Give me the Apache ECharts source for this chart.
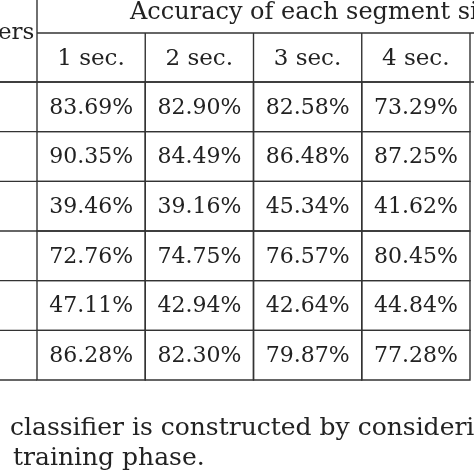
<!DOCTYPE html>
<html lang="en">
<head>
<meta charset="UTF-8">
<script src="https://cdn.jsdelivr.net/npm/echarts@6/dist/echarts.min.js"></script>
<style>
  html, body { margin: 0; padding: 0; background: #fff; }
  #chart { width: 474px; height: 474px; }
</style>
</head>
<body>
<div id="chart"></div>
<script>
// column and row labels
var columns = ['1 sec.', '2 sec.', '3 sec.', '4 sec.'];
var rows = ['r1', 'r2', 'r3', 'r4', 'r5', 'r6'];
// accuracy per row, per segment size
var row1 = ['83.69%', '82.90%', '82.58%', '73.29%'];
var row2 = ['90.35%', '84.49%', '86.48%', '87.25%'];
var row3 = ['39.46%', '39.16%', '45.34%', '41.62%'];
var row4 = ['72.76%', '74.75%', '76.57%', '80.45%'];
var row5 = ['47.11%', '42.94%', '42.64%', '44.84%'];
var row6 = ['86.28%', '82.30%', '79.87%', '77.28%'];
var headerTitle = 'Accuracy of each segment siz';
var leftHeader = 'ers';
var caption1 = 'classifier is constructed by considering';
var caption2 = 'training phase.';

var table = [row1, row2, row3, row4, row5, row6];
var cells = [];
table.forEach(function (r, i) {
  r.forEach(function (v, j) { cells.push([j, i, v]); });
});

var FONT = '"DejaVu Serif", "Liberation Serif", serif';
var INK = '#222';
var LINE = { stroke: '#333', lineWidth: 1.4 };

var chart = echarts.init(document.getElementById('chart'));

function hline(x1, x2, y) {
  return { type: 'line', shape: { x1: x1, y1: y, x2: x2, y2: y }, style: LINE, silent: true };
}
function vline(x, y1, y2) {
  return { type: 'line', shape: { x1: x, y1: y1, x2: x, y2: y2 }, style: LINE, silent: true };
}

var graphics = [
  hline(37, 474, 33),
  hline(0, 474, 82),
  vline(37, 0, 82),
  { type: 'text', x: 130, y: 13, style: { text: headerTitle, font: '24px ' + FONT, fill: INK, verticalAlign: 'middle' } },
  { type: 'text', x: -2, y: 33, style: { text: leftHeader, font: '23px ' + FONT, fill: INK, verticalAlign: 'middle' } },
  { type: 'text', x: 10, y: 428, style: { text: caption1, font: '25px ' + FONT, fill: INK, verticalAlign: 'middle' } },
  { type: 'text', x: 13, y: 458, style: { text: caption2, font: '25px ' + FONT, fill: INK, verticalAlign: 'middle' } }
];
columns.forEach(function (c, j) {
  var x0 = 37 + j * 108.25;
  graphics.push(vline(x0 + 108.25, 33, 82));
  graphics.push({ type: 'text', x: x0 + 54, y: 59, style: { text: c, font: '23px ' + FONT, fill: INK, align: 'center', verticalAlign: 'middle' } });
});
for (var k = 0; k <= rows.length; k++) {
  graphics.push(hline(0, 37, 82 + k * 298 / rows.length));
}

chart.setOption({
  backgroundColor: '#fff',
  animation: false,
  grid: { left: 37, right: 4, top: 82, bottom: 94 },
  xAxis: { type: 'category', data: columns, show: false },
  yAxis: { type: 'category', data: rows, inverse: true, show: false },
  graphic: graphics,
  series: [{
    type: 'custom',
    data: cells,
    renderItem: function (params, api) {
      var p = api.coord([api.value(0), api.value(1)]);
      var s = api.size([1, 1]);
      return {
        type: 'group',
        children: [
          { type: 'rect', shape: { x: p[0] - s[0] / 2, y: p[1] - s[1] / 2, width: s[0], height: s[1] },
            style: { fill: 'none', stroke: '#333', lineWidth: 1.4 } },
          { type: 'text', x: p[0], y: p[1] + 1,
            style: { text: cells[params.dataIndex][2], font: '22px ' + FONT, fill: INK, align: 'center', verticalAlign: 'middle' } }
        ]
      };
    }
  }]
});
</script>
</body>
</html>
